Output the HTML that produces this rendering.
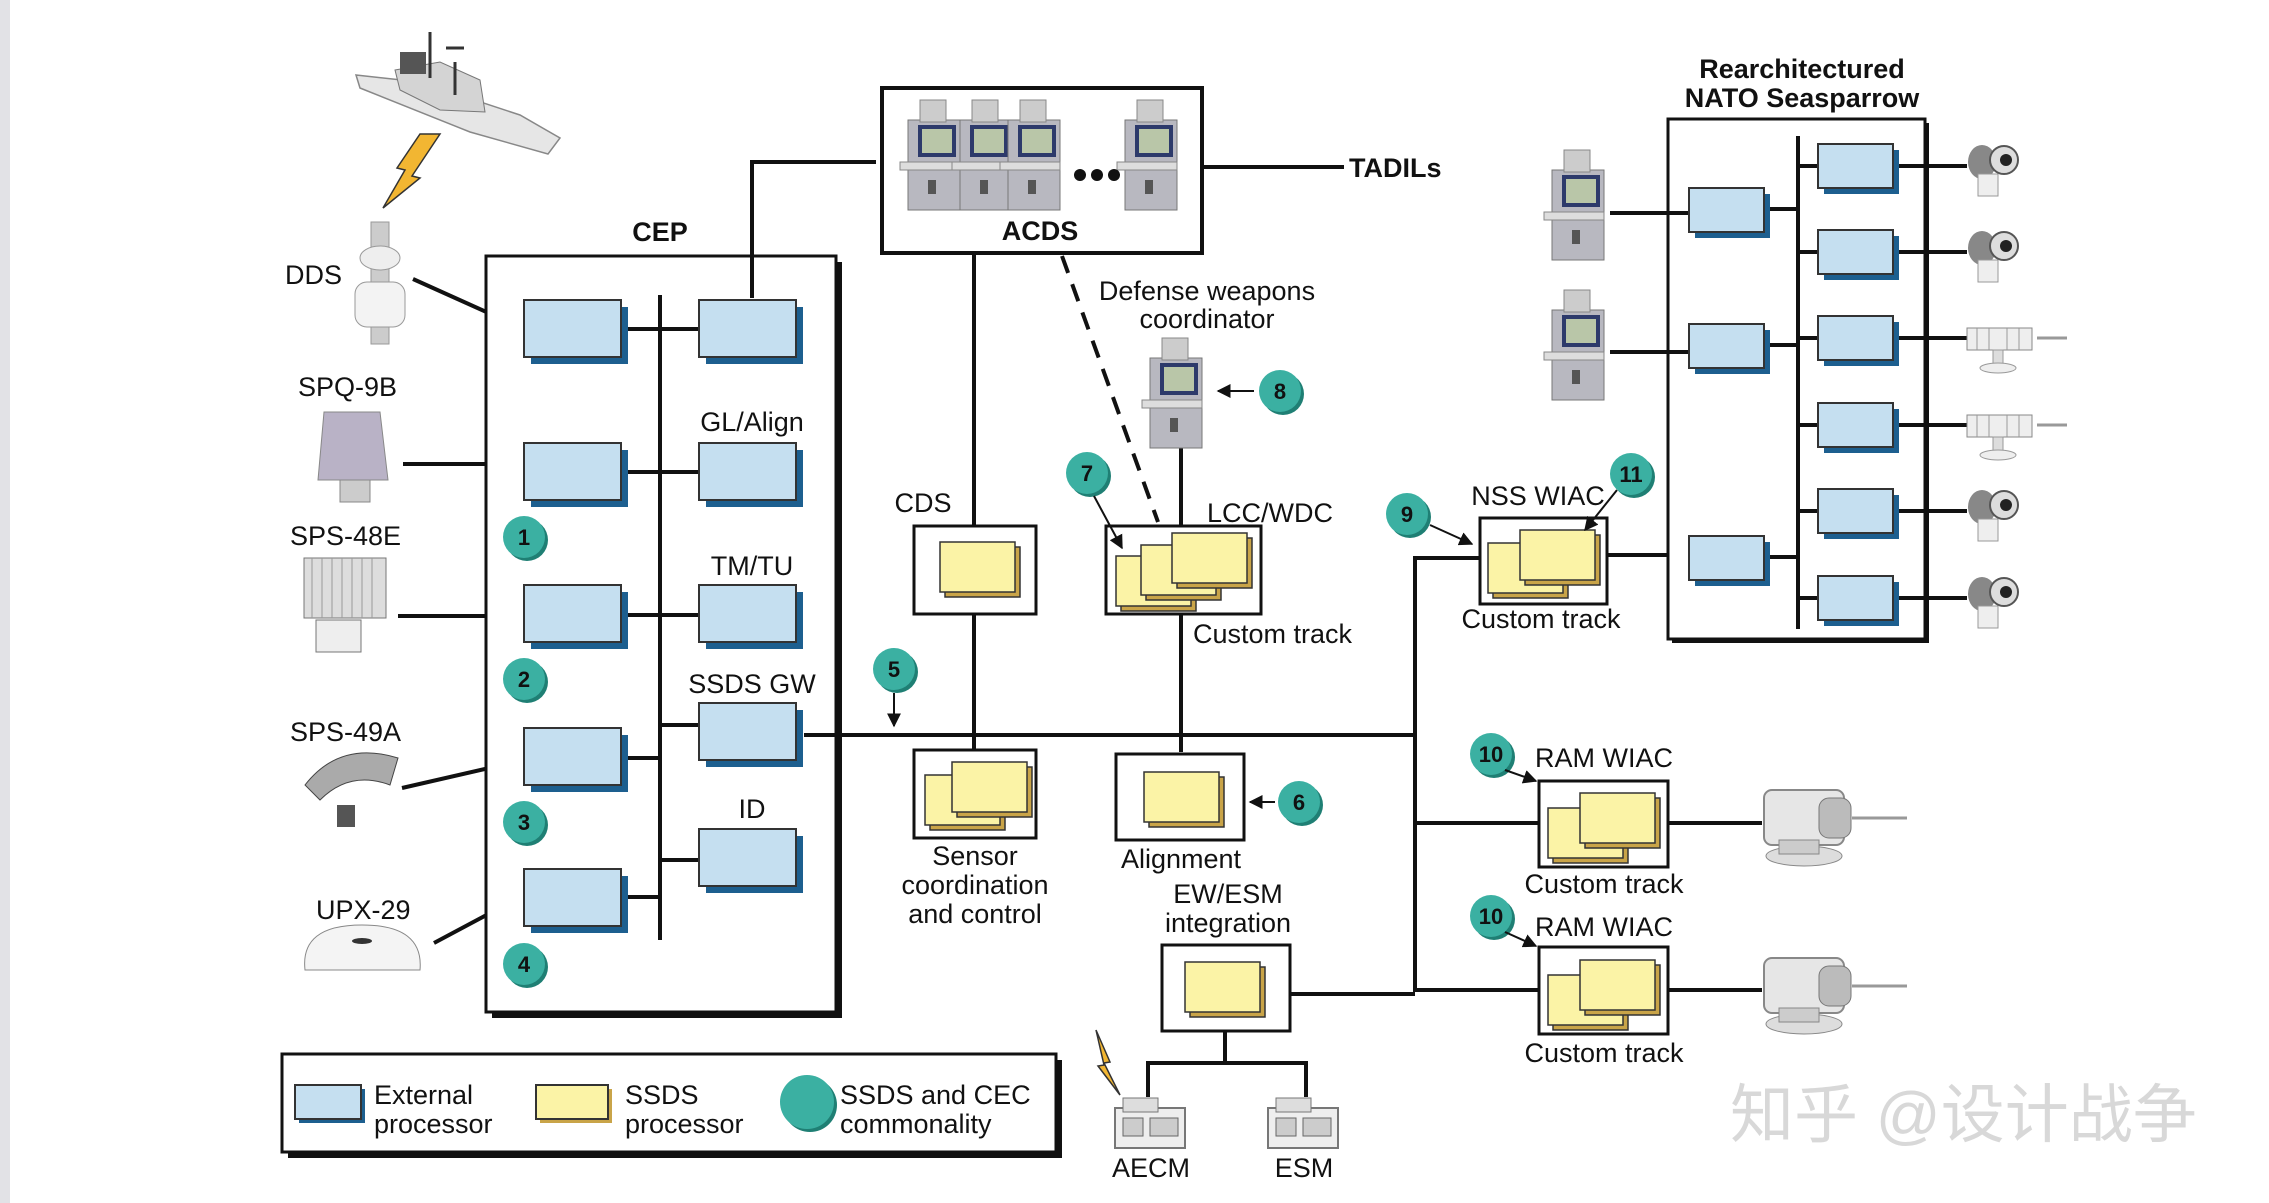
<!DOCTYPE html>
<html><head><meta charset="utf-8"><style>
html,body{margin:0;padding:0;background:#fff;}
svg{display:block;}
text{font-family:"Liberation Sans","Noto Sans CJK SC",sans-serif;font-size:27px;fill:#111;}
.b{font-weight:bold;}
.n{font-weight:bold;font-size:22px;fill:#111;}
</style></head><body>
<svg width="2269" height="1203" viewBox="0 0 2269 1203" xmlns="http://www.w3.org/2000/svg">
<defs>
<g id="bl"><rect x="7" y="7" width="97" height="57" fill="#1d5f8f"/><rect x="0" y="0" width="97" height="57" fill="#c5dff0" stroke="#333" stroke-width="2"/></g>
<g id="bs"><rect x="6" y="6" width="75" height="44" fill="#1d5f8f"/><rect x="0" y="0" width="75" height="44" fill="#c5dff0" stroke="#333" stroke-width="2"/></g>
<g id="yc"><rect x="5" y="5" width="75" height="50" fill="#c9a448" stroke="#333" stroke-width="1.5"/><rect x="0" y="0" width="75" height="50" fill="#fbf3a6" stroke="#333" stroke-width="1.5"/></g>
<g id="tc"><circle cx="3" cy="3" r="21" fill="#1f7f74"/><circle cx="0" cy="0" r="21" fill="#3bb0a2"/></g>
<g id="con"><rect x="0" y="20" width="52" height="90" fill="#b8b8c0" stroke="#777"/><rect x="10" y="25" width="38" height="32" fill="#2d3a6b"/><rect x="14" y="29" width="30" height="24" fill="#b9c6a8"/><rect x="-8" y="62" width="60" height="8" fill="#ddd" stroke="#888"/><rect x="12" y="0" width="26" height="22" fill="#ccc" stroke="#888"/><rect x="20" y="80" width="8" height="14" fill="#555"/></g>
<g id="dir"><ellipse cx="0" cy="0" rx="14" ry="17" fill="#888"/><circle cx="22" cy="-2" r="14" fill="#ddd" stroke="#555" stroke-width="2"/><circle cx="24" cy="-2" r="6" fill="#222"/><rect x="-4" y="12" width="20" height="22" fill="#eee" stroke="#999"/></g>
<g id="lau"><rect x="0" y="-12" width="65" height="22" fill="#eee" stroke="#888"/><path d="M10 -12v22M22 -12v22M40 -12v22M52 -12v22" stroke="#999"/><rect x="26" y="10" width="10" height="16" fill="#ddd" stroke="#999"/><ellipse cx="31" cy="28" rx="18" ry="5" fill="#eee" stroke="#999"/><path d="M70 -2h30" stroke="#999" stroke-width="3"/></g>
<g id="ram"><rect x="0" y="0" width="80" height="55" rx="8" fill="#e6e6e6" stroke="#888" stroke-width="2"/><rect x="55" y="8" width="32" height="40" rx="10" fill="#bbb" stroke="#777"/><ellipse cx="40" cy="66" rx="38" ry="10" fill="#ddd" stroke="#888"/><rect x="15" y="50" width="40" height="14" fill="#ccc" stroke="#888"/><path d="M88 28h55" stroke="#999" stroke-width="3"/></g>
<g id="ecm"><rect x="0" y="10" width="70" height="40" fill="#eee" stroke="#777" stroke-width="2"/><rect x="8" y="0" width="35" height="14" fill="#ddd" stroke="#777"/><rect x="8" y="20" width="20" height="18" fill="#ccc" stroke="#666"/><rect x="35" y="20" width="28" height="18" fill="#ccc" stroke="#666"/></g>
<marker id="ar" viewBox="0 0 10 10" refX="9" refY="5" markerWidth="7" markerHeight="7" orient="auto"><path d="M0 0L10 5L0 10z" fill="#111"/></marker>
</defs>
<rect x="0" y="0" width="10" height="1203" fill="#e2e2e6"/>

<!-- ship & lightning -->
<g>
<path d="M356 75 L420 82 L520 115 L560 138 L548 154 L470 132 L360 88 Z" fill="#e6e6e6" stroke="#888" stroke-width="1.5"/>
<path d="M395 70 L440 62 L480 80 L485 112 L440 110 L400 90 Z" fill="#d4d4d4" stroke="#777"/>
<rect x="400" y="52" width="26" height="22" fill="#555"/>
<path d="M430 32V78M455 62V95M446 48h18" stroke="#333" stroke-width="3"/>
<path d="M440 134 L412 176 L420 178 L383 208 L405 170 L397 168 L420 134 Z" fill="#f2b632" stroke="#333" stroke-width="1.5"/>
</g>

<!-- DDS -->
<text x="285" y="284">DDS</text>
<rect x="371" y="222" width="18" height="122" fill="#ccc" stroke="#999"/>
<ellipse cx="380" cy="258" rx="20" ry="12" fill="#eee" stroke="#999"/>
<rect x="355" y="282" width="50" height="45" rx="12" fill="#f3f3f3" stroke="#999"/>
<!-- SPQ-9B -->
<text x="298" y="396">SPQ-9B</text>
<path d="M324 412 L380 412 L388 480 L318 480 Z" fill="#b9b2c6" stroke="#888"/>
<rect x="340" y="480" width="30" height="22" fill="#ccc" stroke="#888"/>
<!-- SPS-48E -->
<text x="290" y="545">SPS-48E</text>
<rect x="304" y="558" width="82" height="60" fill="#ddd" stroke="#777"/>
<path d="M312 558v60M322 558v60M332 558v60M342 558v60M352 558v60M362 558v60M372 558v60" stroke="#999"/>
<rect x="316" y="620" width="45" height="32" fill="#eee" stroke="#777"/>
<!-- SPS-49A -->
<text x="290" y="741">SPS-49A</text>
<path d="M305 785 Q340 740 398 758 L390 785 Q350 770 320 800 Z" fill="#aaa" stroke="#444"/>
<rect x="337" y="805" width="18" height="22" fill="#555"/>
<!-- UPX-29 -->
<text x="316" y="919">UPX-29</text>
<path d="M305 970 Q300 925 362 925 Q424 925 420 970 Z" fill="#f4f4f4" stroke="#888"/>
<ellipse cx="362" cy="941" rx="10" ry="3" fill="#333"/>

<!-- sensor lines -->
<g stroke="#111" stroke-width="4" fill="none">
<path d="M413 279 L524 329"/>
<path d="M403 464 H524"/>
<path d="M398 616 H524"/>
<path d="M402 788 L524 760"/>
<path d="M434 943 L524 895"/>
</g>

<!-- CEP box -->
<rect x="492" y="262" width="350" height="756" fill="#111"/>
<rect x="486" y="256" width="350" height="756" fill="#fff" stroke="#111" stroke-width="3"/>
<text x="660" y="241" text-anchor="middle" class="b">CEP</text>
<g stroke="#111" stroke-width="4" fill="none">
<path d="M660 295 V940"/>
<path d="M621 329 H699 M621 472 H699 M621 615 H699 M660 725 H699 M621 758 H660 M660 860 H699 M621 897 H660"/>
<path d="M752 298 V162 H876"/>
</g>
<use href="#bl" x="524" y="300"/><use href="#bl" x="524" y="443"/><use href="#bl" x="524" y="585"/><use href="#bl" x="524" y="728"/><use href="#bl" x="524" y="869"/>
<use href="#bl" x="699" y="300"/><use href="#bl" x="699" y="443"/><use href="#bl" x="699" y="585"/><use href="#bl" x="699" y="703"/><use href="#bl" x="699" y="829"/>
<text x="752" y="431" text-anchor="middle">GL/Align</text>
<text x="752" y="575" text-anchor="middle">TM/TU</text>
<text x="752" y="693" text-anchor="middle">SSDS GW</text>
<text x="752" y="818" text-anchor="middle">ID</text>
<use href="#tc" x="524" y="537"/><text x="524" y="545" text-anchor="middle" class="n">1</text>
<use href="#tc" x="524" y="679"/><text x="524" y="687" text-anchor="middle" class="n">2</text>
<use href="#tc" x="524" y="822"/><text x="524" y="830" text-anchor="middle" class="n">3</text>
<use href="#tc" x="524" y="964"/><text x="524" y="972" text-anchor="middle" class="n">4</text>

<!-- ACDS -->
<rect x="882" y="88" width="320" height="165" fill="#fff" stroke="#111" stroke-width="4"/>
<use href="#con" x="908" y="100"/><use href="#con" x="960" y="100"/><use href="#con" x="1008" y="100"/><use href="#con" x="1125" y="100"/>
<circle cx="1080" cy="175" r="6" fill="#111"/><circle cx="1097" cy="175" r="6" fill="#111"/><circle cx="1114" cy="175" r="6" fill="#111"/>
<text x="1040" y="240" text-anchor="middle" class="b">ACDS</text>
<path d="M1202 167 H1344" stroke="#111" stroke-width="4"/>
<text x="1349" y="177" class="b">TADILs</text>

<!-- middle wiring -->
<g stroke="#111" stroke-width="4" fill="none">
<path d="M974 253 V750"/>
<path d="M804 735 H1415"/>
<path d="M1181 445 V526 M1181 614 V752"/>
<path d="M1415 992 V558 H1480"/>
<path d="M1607 555 H1689"/>
<path d="M1415 823 H1539 M1668 823 H1762"/>
<path d="M1290 994 H1415 M1415 990 H1539 M1668 990 H1762"/>
<path d="M1225 1032 V1063 M1148 1097 V1063 H1306 V1097"/>
</g>
<path d="M1062 256 L1158 522" stroke="#111" stroke-width="4" stroke-dasharray="18 12"/>

<!-- CDS -->
<text x="923" y="512" text-anchor="middle">CDS</text>
<rect x="914" y="526" width="122" height="88" fill="#fff" stroke="#111" stroke-width="3"/>
<use href="#yc" x="940" y="542"/>
<!-- Sensor coord -->
<rect x="914" y="750" width="122" height="88" fill="#fff" stroke="#111" stroke-width="3"/>
<use href="#yc" x="925" y="775"/><use href="#yc" x="952" y="762"/>
<text x="975" y="865" text-anchor="middle">Sensor</text>
<text x="975" y="894" text-anchor="middle">coordination</text>
<text x="975" y="923" text-anchor="middle">and control</text>
<use href="#tc" x="894" y="669"/><text x="894" y="677" text-anchor="middle" class="n">5</text>
<path d="M894 693 V726" stroke="#111" stroke-width="2" marker-end="url(#ar)"/>

<!-- LCC/WDC -->
<text x="1207" y="300" text-anchor="middle">Defense weapons</text>
<text x="1207" y="328" text-anchor="middle">coordinator</text>
<use href="#con" x="1150" y="338"/>
<use href="#tc" x="1280" y="391"/><text x="1280" y="399" text-anchor="middle" class="n">8</text>
<path d="M1254 391 H1218" stroke="#111" stroke-width="2" marker-end="url(#ar)"/>
<text x="1207" y="522">LCC/WDC</text>
<rect x="1106" y="526" width="155" height="88" fill="#fff" stroke="#111" stroke-width="3"/>
<use href="#yc" x="1116" y="556"/><use href="#yc" x="1141" y="545"/><use href="#yc" x="1172" y="533"/>
<text x="1193" y="643">Custom track</text>
<use href="#tc" x="1087" y="473"/><text x="1087" y="481" text-anchor="middle" class="n">7</text>
<path d="M1094 496 L1122 548" stroke="#111" stroke-width="2" marker-end="url(#ar)"/>

<!-- Alignment -->
<rect x="1116" y="754" width="128" height="86" fill="#fff" stroke="#111" stroke-width="3"/>
<use href="#yc" x="1144" y="772"/>
<text x="1181" y="868" text-anchor="middle">Alignment</text>
<use href="#tc" x="1299" y="802"/><text x="1299" y="810" text-anchor="middle" class="n">6</text>
<path d="M1275 802 H1250" stroke="#111" stroke-width="2" marker-end="url(#ar)"/>

<!-- EW/ESM -->
<text x="1228" y="903" text-anchor="middle">EW/ESM</text>
<text x="1228" y="932" text-anchor="middle">integration</text>
<rect x="1162" y="945" width="128" height="86" fill="#fff" stroke="#111" stroke-width="3"/>
<use href="#yc" x="1185" y="962"/>
<use href="#ecm" x="1115" y="1098"/><use href="#ecm" x="1268" y="1098"/>
<text x="1151" y="1177" text-anchor="middle">AECM</text>
<text x="1304" y="1177" text-anchor="middle">ESM</text>
<path d="M1096 1030 L1110 1062 L1104 1063 L1120 1095 L1098 1066 L1104 1065 Z" fill="#f2b632" stroke="#333" stroke-width="1.5"/>

<!-- NSS WIAC -->
<text x="1538" y="505" text-anchor="middle">NSS WIAC</text>
<rect x="1480" y="518" width="127" height="86" fill="#fff" stroke="#111" stroke-width="3"/>
<use href="#yc" x="1488" y="543"/><use href="#yc" x="1520" y="530"/>
<text x="1541" y="628" text-anchor="middle">Custom track</text>
<use href="#tc" x="1407" y="514"/><text x="1407" y="522" text-anchor="middle" class="n">9</text>
<path d="M1430 525 L1472 544" stroke="#111" stroke-width="2" marker-end="url(#ar)"/>
<use href="#tc" x="1631" y="474"/><text x="1631" y="482" text-anchor="middle" class="n">11</text>
<path d="M1617 490 L1585 530" stroke="#111" stroke-width="2" marker-end="url(#ar)"/>

<!-- NATO Seasparrow -->
<text x="1802" y="78" text-anchor="middle" class="b">Rearchitectured</text>
<text x="1802" y="107" text-anchor="middle" class="b">NATO Seasparrow</text>
<rect x="1672" y="123" width="257" height="520" fill="#111"/>
<rect x="1668" y="119" width="257" height="520" fill="#fff" stroke="#111" stroke-width="3"/>
<g stroke="#111" stroke-width="4" fill="none">
<path d="M1798 136 V629"/>
<path d="M1610 213 H1689 M1765 209 H1798 M1610 352 H1689 M1765 345 H1798 M1765 557 H1798"/>
<path d="M1798 166 H1818 M1798 252 H1818 M1798 338 H1818 M1798 425 H1818 M1798 511 H1818 M1798 598 H1818"/>
<path d="M1893 166 H1967 M1893 252 H1967 M1893 338 H1967 M1893 425 H1967 M1893 511 H1967 M1893 598 H1967"/>
</g>
<use href="#bs" x="1689" y="188"/><use href="#bs" x="1689" y="324"/><use href="#bs" x="1689" y="536"/>
<use href="#bs" x="1818" y="144"/><use href="#bs" x="1818" y="230"/><use href="#bs" x="1818" y="316"/><use href="#bs" x="1818" y="403"/><use href="#bs" x="1818" y="489"/><use href="#bs" x="1818" y="576"/>
<use href="#con" x="1552" y="150"/><use href="#con" x="1552" y="290"/>
<use href="#dir" x="1982" y="162"/><use href="#dir" x="1982" y="248"/><use href="#lau" x="1967" y="340"/><use href="#lau" x="1967" y="427"/><use href="#dir" x="1982" y="507"/><use href="#dir" x="1982" y="594"/>

<!-- RAM WIAC -->
<text x="1604" y="767" text-anchor="middle">RAM WIAC</text>
<rect x="1539" y="781" width="129" height="86" fill="#fff" stroke="#111" stroke-width="3"/>
<use href="#yc" x="1548" y="808"/><use href="#yc" x="1580" y="793"/>
<text x="1604" y="893" text-anchor="middle">Custom track</text>
<use href="#tc" x="1491" y="754"/><text x="1491" y="762" text-anchor="middle" class="n">10</text>
<path d="M1505 770 L1536 781" stroke="#111" stroke-width="2" marker-end="url(#ar)"/>
<text x="1604" y="936" text-anchor="middle">RAM WIAC</text>
<rect x="1539" y="947" width="129" height="87" fill="#fff" stroke="#111" stroke-width="3"/>
<use href="#yc" x="1548" y="975"/><use href="#yc" x="1580" y="960"/>
<text x="1604" y="1062" text-anchor="middle">Custom track</text>
<use href="#tc" x="1491" y="916"/><text x="1491" y="924" text-anchor="middle" class="n">10</text>
<path d="M1505 932 L1536 946" stroke="#111" stroke-width="2" marker-end="url(#ar)"/>
<use href="#ram" x="1764" y="790"/><use href="#ram" x="1764" y="958"/>

<!-- Legend -->
<rect x="288" y="1060" width="774" height="98" fill="#111"/>
<rect x="282" y="1054" width="774" height="98" fill="#fff" stroke="#111" stroke-width="3"/>
<rect x="299" y="1089" width="66" height="34" fill="#1d5f8f"/><rect x="295" y="1085" width="66" height="34" fill="#c5dff0" stroke="#333" stroke-width="2"/>
<text x="374" y="1104">External</text><text x="374" y="1133">processor</text>
<rect x="540" y="1089" width="72" height="34" fill="#c9a448"/><rect x="536" y="1085" width="72" height="34" fill="#fbf3a6" stroke="#333" stroke-width="2"/>
<text x="625" y="1104">SSDS</text><text x="625" y="1133">processor</text>
<circle cx="810" cy="1105" r="27" fill="#1f7f74"/><circle cx="807" cy="1102" r="27" fill="#3bb0a2"/>
<text x="840" y="1104">SSDS and CEC</text><text x="840" y="1133">commonality</text>

<text x="1730" y="1137" style="font-size:64px;fill:#d8d8d8;font-family:'Liberation Sans','Noto Sans CJK SC',sans-serif;">知乎 @设计战争</text>
</svg>
</body></html>
